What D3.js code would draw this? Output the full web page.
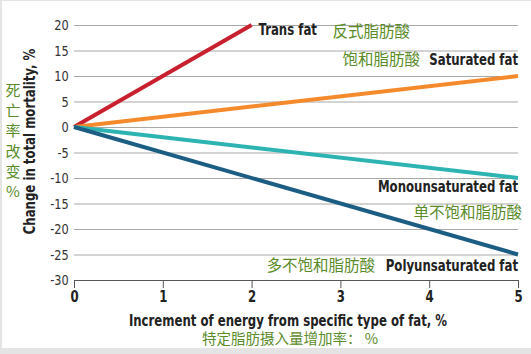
<!DOCTYPE html>
<html>
<head>
<meta charset="utf-8">
<script src="https://cdn.jsdelivr.net/npm/d3@7"></script>
<style>
  body { margin: 0; background: #fff; }
  svg { display: block; }
  .tick text { font-family: "DejaVu Sans Condensed", sans-serif; }
</style>
</head>
<body>
<div id="chart"></div>
<script>
const xTicks = [0, 1, 2, 3, 4, 5];
const yTicks = [20, 15, 10, 5, 0, -5, -10, -15, -20, -25, -30];

// each series: straight line from origin to end point
const seriesNames = ["Trans fat", "Saturated fat", "Monounsaturated fat", "Polyunsaturated fat"];
const seriesCn = ["反式脂肪酸", "饱和脂肪酸", "单不饱和脂肪酸", "多不饱和脂肪酸"];
const seriesX = [[0, 2], [0, 5], [0, 5], [0, 5]];
const seriesY = [[0, 20], [0, 10], [0, -10], [0, -25]];
const seriesColors = ["#c8202f", "#f58a2c", "#2db4b2", "#1c5d84"];

const W = 531, H = 354;
const margin = { top: 25, right: 13, bottom: 74, left: 74 };
const width = W - margin.left - margin.right;
const height = H - margin.top - margin.bottom;
const narrow = '"DejaVu Sans Condensed", sans-serif';
const cjk = '"Noto Sans CJK SC", sans-serif';
const green = "#5b8c2a";
const squeeze = 0.87;

const root = d3.select("#chart").append("svg")
    .attr("width", W)
    .attr("height", H);

// page frame
root.append("rect").attr("x", 0).attr("y", 0).attr("width", W).attr("height", H).attr("fill", "#e4e4e4");
root.append("rect").attr("x", 2).attr("y", 1).attr("width", W - 2).attr("height", H - 7).attr("fill", "#fff");

const svg = root.append("g")
    .attr("transform", `translate(${margin.left},${margin.top})`);

const x = d3.scaleLinear().domain([0, 5]).range([0, width]);
const y = d3.scaleLinear().domain([-30, 20]).range([height, 0]);

// horizontal grid + y labels
const yAxis = svg.append("g")
    .call(d3.axisLeft(y).tickValues(yTicks).tickSize(-width).tickPadding(6).tickFormat(d => String(d)));
yAxis.select(".domain").remove();
yAxis.selectAll(".tick line").attr("stroke", "#a8a8a8").attr("stroke-width", 1.2);
yAxis.selectAll(".tick text").attr("font-size", 14.5).attr("fill", "#333")
    .attr("transform", `scale(${squeeze},1)`);
yAxis.selectAll(".tick").filter(d => d === -30).select("line").attr("stroke", "#555");

// x axis
const xAxis = svg.append("g")
    .attr("transform", `translate(0,${height})`)
    .call(d3.axisBottom(x).tickValues(xTicks).tickSize(8).tickSizeOuter(0).tickPadding(3).tickFormat(d => String(d)));
xAxis.select(".domain").attr("stroke", "#555").attr("stroke-width", 1.2);
xAxis.selectAll(".tick line").attr("stroke", "#555");
xAxis.selectAll(".tick text").attr("font-size", 15).attr("font-weight", "bold").attr("fill", "#222")
    .attr("transform", `scale(${squeeze},1)`);

// lines
const line = d3.line().x(d => x(d[0])).y(d => y(d[1]));
seriesNames.forEach((name, i) => {
    const pts = seriesX[i].map((v, j) => [v, seriesY[i][j]]);
    svg.append("path")
        .datum(pts)
        .attr("fill", "none")
        .attr("stroke", seriesColors[i])
        .attr("stroke-width", 4)
        .attr("d", line);
});

// series labels (english in a squeezed bold face, chinese in green)
function label(txt, px, py, anchor, cn) {
    svg.append("text")
        .attr("transform", `translate(${px},${py})` + (cn ? "" : ` scale(${squeeze},1)`))
        .attr("text-anchor", anchor)
        .attr("font-family", cn ? cjk : narrow)
        .attr("font-weight", cn ? "normal" : "bold")
        .attr("font-size", cn ? 15.5 : 15)
        .attr("fill", cn ? green : "#222")
        .text(txt);
}
label(seriesNames[0], x(2) + 7, y(18.05), "start", false);
label(seriesCn[0], x(2) + 81, y(17.6), "start", true);
label(seriesNames[1], x(5), y(12.2), "end", false);
label(seriesCn[1], x(5) - 98, y(12.2), "end", true);
label(seriesNames[2], x(5), y(-12.7), "end", false);
label(seriesCn[2], x(5) + 4, y(-17.9), "end", true);
label(seriesNames[3], x(5), y(-28.2), "end", false);
label(seriesCn[3], x(5) - 143, y(-28.2), "end", true);

// x titles
svg.append("text")
    .attr("transform", `translate(${width / 2 - 8},${height + 46}) scale(${squeeze},1)`)
    .attr("text-anchor", "middle")
    .attr("font-family", narrow).attr("font-weight", "bold").attr("font-size", 15)
    .attr("fill", "#222")
    .text("Increment of energy from specific type of fat, %");
svg.append("text")
    .attr("x", width / 2 - 6).attr("y", height + 64)
    .attr("text-anchor", "middle")
    .attr("font-family", cjk).attr("font-size", 14.5)
    .attr("fill", green)
    .text("特定脂肪摄入量增加率： %");

// y titles
svg.append("text")
    .attr("transform", `translate(${-39},${116.5}) rotate(-90) scale(${squeeze},1)`)
    .attr("text-anchor", "middle")
    .attr("font-family", narrow).attr("font-weight", "bold").attr("font-size", 15)
    .attr("fill", "#222")
    .text("Change in total mortality, %");
const cnY = ["死", "亡", "率", "改", "变", "%"];
svg.append("g").selectAll("text")
    .data(cnY)
    .enter().append("text")
    .attr("x", -61)
    .attr("y", (d, i) => 71 + i * 20.2)
    .attr("text-anchor", "middle")
    .attr("font-family", cjk).attr("font-size", 15)
    .attr("fill", green)
    .text(d => d);
</script>
</body>
</html>
